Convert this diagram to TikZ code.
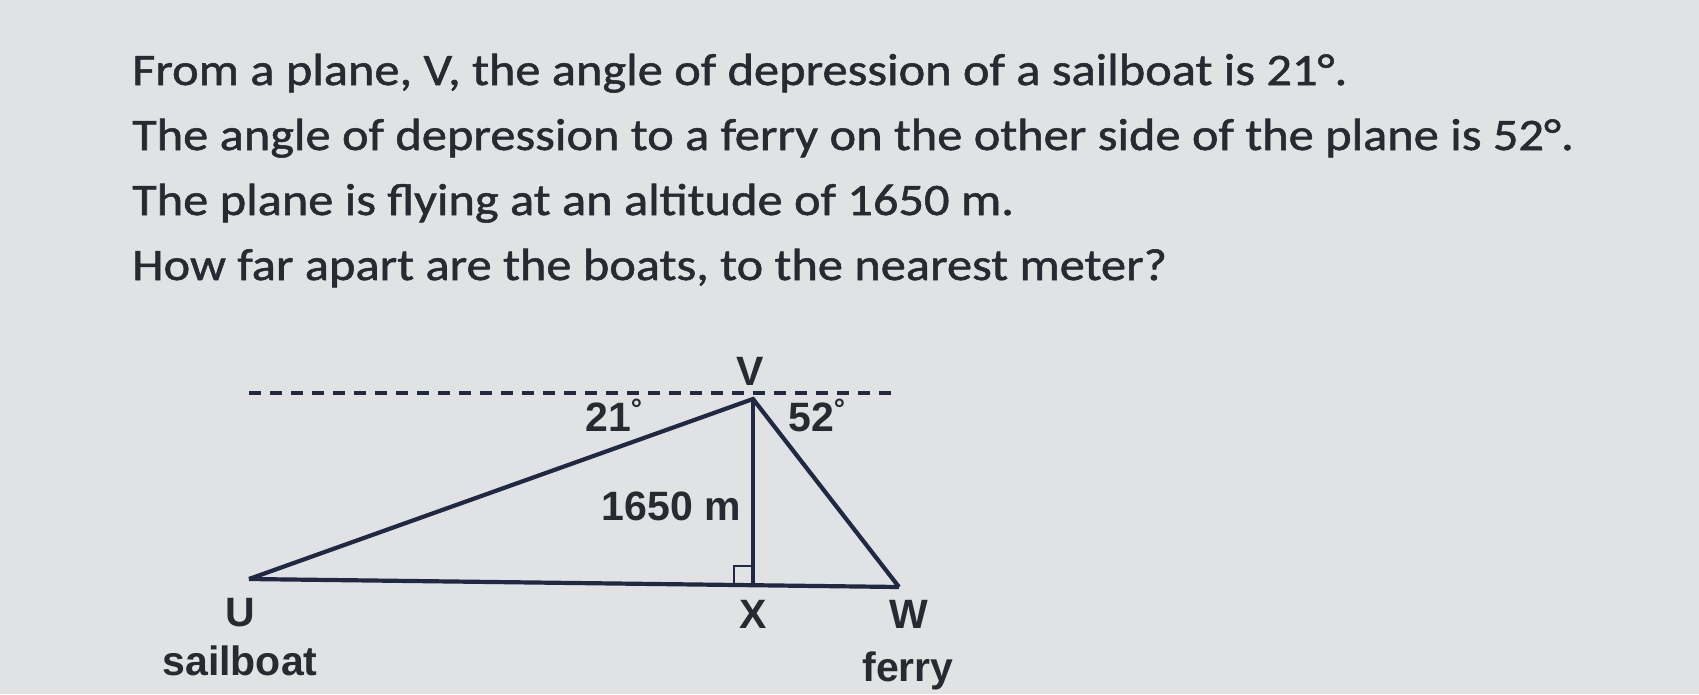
\documentclass[tikz,border=0pt]{standalone}
\usepackage{fontspec}
\setmainfont[FakeStretch=1.12,FakeBold=1.2]{Carlito}
\newfontfamily\labfont{Liberation Sans}
\definecolor{bg}{RGB}{224,226,228}
\definecolor{ink}{RGB}{40,42,50}
\definecolor{navy}{RGB}{32,40,68}
\begin{document}
\begin{tikzpicture}[x=1pt,y=-1pt,
  qtext/.style={anchor=base west,inner sep=0pt,text=ink,font=\fontsize{45}{54}\selectfont},
  lab/.style={inner sep=0pt,text=ink,font=\labfont\bfseries\fontsize{41}{44}\selectfont},
  side/.style={draw=navy,line width=4.2pt,line join=miter},
  horiz/.style={draw=navy,line width=3.6pt,dash pattern=on 12pt off 9pt}]
\fill[bg] (0,0) rectangle (1699,694);
\useasboundingbox (0,0) rectangle (1699,694);
% question
\node[qtext] (q1) at (132,85) {From a plane, V, the angle of depression of a sailboat is 21°.};
\node[qtext] (q2) at (132,150) {The angle of depression to a ferry on the other side of the plane is 52°.};
\node[qtext] (q3) at (132,215) {The plane is flying at an altitude of 1650 m.};
\node[qtext] (q4) at (132,280) {How far apart are the boats, to the nearest meter?};
% vertices
\coordinate (V) at (753,399);
\coordinate (U) at (249,579);
\coordinate (X) at (753,585);
\coordinate (W) at (899,587);
\coordinate (hl) at (249,393);
\coordinate (hr) at (899,393);
% horizontal
\draw[horiz] (hl) -- (hr);
% triangle
\draw[side] (U) -- (W);
\draw[side] (U) -- (V) -- (W);
\draw[side] (V) -- (X);
\draw[draw=navy,line width=2.4pt] ([xshift=-19pt]X) -- ++(0,-19) -- ++(19,0);
% labels
\node[lab,anchor=base] (lV) at (750,385) {V};
\node[lab,anchor=base] (lU) at (240,626) {U};
\node[lab,anchor=base] (lX) at (753,628) {X};
\node[lab,anchor=base] (lW) at (909,628) {W};
\node[lab,anchor=base] (ls) at (240,675) {sailboat};
\node[lab,anchor=base] (lf) at (908,681) {ferry};
\node[lab,anchor=base west] (a21) at (585,431) {21\raisebox{0.3em}{\fontsize{28}{28}\selectfont°}};
\node[lab,anchor=base west] (a52) at (788,431) {52\raisebox{0.3em}{\fontsize{28}{28}\selectfont°}};
\node[lab,anchor=base east] (h) at (741,520) {1650 m};
\end{tikzpicture}
\end{document}
